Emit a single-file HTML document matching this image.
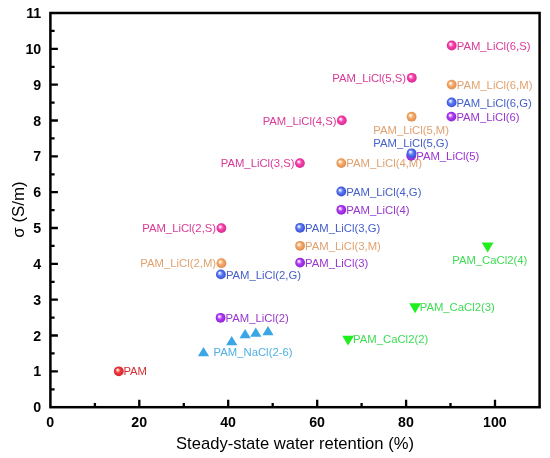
<!DOCTYPE html>
<html lang="en"><head><meta charset="utf-8"><title>Conductivity vs water retention</title>
<style>html,body{margin:0;padding:0;background:#fff}svg{display:block}text{font-family:"Liberation Sans",Arial,sans-serif}.tk{font-weight:bold;font-size:14.2px;fill:#000}.ax{font-size:16.6px;fill:#000}.lb{font-size:11.3px}</style></head><body>
<svg width="550" height="458" viewBox="0 0 550 458">
<rect width="550" height="458" fill="#fff"/>
<defs>
<radialGradient id="gred" cx="0.5" cy="0.5" r="0.5" fx="0.34" fy="0.33"><stop offset="0.04" stop-color="#fff"/><stop offset="0.22" stop-color="#ffb4b4"/><stop offset="0.5" stop-color="#f43a3e"/><stop offset="1" stop-color="#d02228"/></radialGradient>
<radialGradient id="gpur" cx="0.5" cy="0.5" r="0.5" fx="0.34" fy="0.33"><stop offset="0.04" stop-color="#fff"/><stop offset="0.22" stop-color="#e6bcff"/><stop offset="0.5" stop-color="#b23cf4"/><stop offset="1" stop-color="#8a24d0"/></radialGradient>
<radialGradient id="gblu" cx="0.5" cy="0.5" r="0.5" fx="0.34" fy="0.33"><stop offset="0.04" stop-color="#fff"/><stop offset="0.22" stop-color="#bccaff"/><stop offset="0.5" stop-color="#5a78f4"/><stop offset="1" stop-color="#3850d0"/></radialGradient>
<radialGradient id="gorg" cx="0.5" cy="0.5" r="0.5" fx="0.34" fy="0.33"><stop offset="0.04" stop-color="#fff"/><stop offset="0.22" stop-color="#ffe2c4"/><stop offset="0.5" stop-color="#f6aa6a"/><stop offset="1" stop-color="#dc8e50"/></radialGradient>
<radialGradient id="gpnk" cx="0.5" cy="0.5" r="0.5" fx="0.34" fy="0.33"><stop offset="0.04" stop-color="#fff"/><stop offset="0.22" stop-color="#ffbce4"/><stop offset="0.5" stop-color="#f844ac"/><stop offset="1" stop-color="#d82890"/></radialGradient>
</defs>
<rect x="50.4" y="13.0" width="489.2" height="394.2" fill="none" stroke="#000" stroke-width="2.5"/>
<path d="M50.4 389.3h4.2 M50.4 371.4h7.5 M50.4 353.4h4.2 M50.4 335.5h7.5 M50.4 317.6h4.2 M50.4 299.7h7.5 M50.4 281.8h4.2 M50.4 263.9h7.5 M50.4 245.9h4.2 M50.4 228.0h7.5 M50.4 210.1h4.2 M50.4 192.2h7.5 M50.4 174.3h4.2 M50.4 156.3h7.5 M50.4 138.4h4.2 M50.4 120.5h7.5 M50.4 102.6h4.2 M50.4 84.7h7.5 M50.4 66.8h4.2 M50.4 48.8h7.5 M50.4 30.9h4.2 M94.9 407.2v-4.2 M139.3 407.2v-7.5 M183.8 407.2v-4.2 M228.2 407.2v-7.5 M272.7 407.2v-4.2 M317.2 407.2v-7.5 M361.6 407.2v-4.2 M406.1 407.2v-7.5 M450.5 407.2v-4.2 M495.0 407.2v-7.5" stroke="#000" stroke-width="2.3" fill="none"/>
<text class="tk" x="41.2" y="412.2" text-anchor="end">0</text>
<text class="tk" x="41.2" y="376.4" text-anchor="end">1</text>
<text class="tk" x="41.2" y="340.5" text-anchor="end">2</text>
<text class="tk" x="41.2" y="304.7" text-anchor="end">3</text>
<text class="tk" x="41.2" y="268.9" text-anchor="end">4</text>
<text class="tk" x="41.2" y="233.0" text-anchor="end">5</text>
<text class="tk" x="41.2" y="197.2" text-anchor="end">6</text>
<text class="tk" x="41.2" y="161.3" text-anchor="end">7</text>
<text class="tk" x="41.2" y="125.5" text-anchor="end">8</text>
<text class="tk" x="41.2" y="89.7" text-anchor="end">9</text>
<text class="tk" x="41.2" y="53.8" text-anchor="end">10</text>
<text class="tk" x="41.2" y="18.0" text-anchor="end">11</text>
<text class="tk" x="50.3" y="426.6" text-anchor="middle">0</text>
<text class="tk" x="139.2" y="426.6" text-anchor="middle">20</text>
<text class="tk" x="228.1" y="426.6" text-anchor="middle">40</text>
<text class="tk" x="317.1" y="426.6" text-anchor="middle">60</text>
<text class="tk" x="406.0" y="426.6" text-anchor="middle">80</text>
<text class="tk" x="494.9" y="426.6" text-anchor="middle">100</text>
<text class="ax" x="295" y="449" text-anchor="middle">Steady-state water retention (%)</text>
<text class="ax" style="font-size:16.9px" transform="translate(24.4 209.5) rotate(-90)" text-anchor="middle">σ (S/m)</text>
<text class="lb" x="123.4" y="375.0" fill="#d03034" text-anchor="start">PAM</text>
<text class="lb" x="225.6" y="321.9" fill="#9a35d0" text-anchor="start">PAM_LiCl(2)</text>
<text class="lb" x="305.1" y="266.7" fill="#9a35d0" text-anchor="start">PAM_LiCl(3)</text>
<text class="lb" x="346.3" y="213.9" fill="#9a35d0" text-anchor="start">PAM_LiCl(4)</text>
<text class="lb" x="416.2" y="159.9" fill="#9a35d0" text-anchor="start">PAM_LiCl(5)</text>
<text class="lb" x="456.4" y="120.7" fill="#9a35d0" text-anchor="start">PAM_LiCl(6)</text>
<text class="lb" x="225.9" y="278.5" fill="#4560c8" text-anchor="start">PAM_LiCl(2,G)</text>
<text class="lb" x="305.1" y="231.9" fill="#4560c8" text-anchor="start">PAM_LiCl(3,G)</text>
<text class="lb" x="346.3" y="195.6" fill="#4560c8" text-anchor="start">PAM_LiCl(4,G)</text>
<text class="lb" x="456.6" y="106.5" fill="#4560c8" text-anchor="start">PAM_LiCl(6,G)</text>
<text class="lb" x="216.1" y="267.3" fill="#e0a270" text-anchor="end">PAM_LiCl(2,M)</text>
<text class="lb" x="305.1" y="249.9" fill="#e0a270" text-anchor="start">PAM_LiCl(3,M)</text>
<text class="lb" x="346.3" y="167.2" fill="#e0a270" text-anchor="start">PAM_LiCl(4,M)</text>
<text class="lb" x="456.7" y="88.7" fill="#e0a270" text-anchor="start">PAM_LiCl(6,M)</text>
<text class="lb" x="216.1" y="232.2" fill="#d83a98" text-anchor="end">PAM_LiCl(2,S)</text>
<text class="lb" x="294.6" y="167.2" fill="#d83a98" text-anchor="end">PAM_LiCl(3,S)</text>
<text class="lb" x="336.5" y="124.5" fill="#d83a98" text-anchor="end">PAM_LiCl(4,S)</text>
<text class="lb" x="406.1" y="81.9" fill="#d83a98" text-anchor="end">PAM_LiCl(5,S)</text>
<text class="lb" x="456.7" y="49.6" fill="#d83a98" text-anchor="start">PAM_LiCl(6,S)</text>
<text class="lb" x="373.3" y="133.8" fill="#e0a270" text-anchor="start">PAM_LiCl(5,M)</text>
<text class="lb" x="373.3" y="146.9" fill="#4560c8" text-anchor="start">PAM_LiCl(5,G)</text>
<circle cx="221.4" cy="228.1" r="4.9" fill="url(#gpnk)"/>
<circle cx="299.9" cy="163.1" r="4.9" fill="url(#gpnk)"/>
<circle cx="341.8" cy="120.4" r="4.9" fill="url(#gpnk)"/>
<circle cx="411.8" cy="77.8" r="4.9" fill="url(#gpnk)"/>
<circle cx="451.7" cy="45.5" r="4.9" fill="url(#gpnk)"/>
<circle cx="221.4" cy="263.2" r="4.9" fill="url(#gorg)"/>
<circle cx="300.1" cy="245.8" r="4.9" fill="url(#gorg)"/>
<circle cx="341.3" cy="163.1" r="4.9" fill="url(#gorg)"/>
<circle cx="411.6" cy="116.7" r="4.9" fill="url(#gorg)"/>
<circle cx="451.7" cy="84.6" r="4.9" fill="url(#gorg)"/>
<circle cx="220.6" cy="317.8" r="4.9" fill="url(#gpur)"/>
<circle cx="300.1" cy="262.6" r="4.9" fill="url(#gpur)"/>
<circle cx="341.3" cy="209.8" r="4.9" fill="url(#gpur)"/>
<circle cx="411.2" cy="155.8" r="4.9" fill="url(#gpur)"/>
<circle cx="451.4" cy="116.6" r="4.9" fill="url(#gpur)"/>
<circle cx="220.9" cy="274.4" r="4.9" fill="url(#gblu)"/>
<circle cx="300.1" cy="227.8" r="4.9" fill="url(#gblu)"/>
<circle cx="341.3" cy="191.5" r="4.9" fill="url(#gblu)"/>
<circle cx="411.6" cy="153.3" r="4.9" fill="url(#gblu)"/>
<circle cx="451.6" cy="102.4" r="4.9" fill="url(#gblu)"/>
<circle cx="118.8" cy="371.3" r="4.9" fill="url(#gred)"/>
<path d="M203.5 347.0l5.6 9.2h-11.2z" fill="#3aa6e6"/>
<path d="M231.7 336.0l5.6 9.2h-11.2z" fill="#3aa6e6"/>
<path d="M245.1 329.0l5.6 9.2h-11.2z" fill="#3aa6e6"/>
<path d="M255.8 327.6l5.6 9.2h-11.2z" fill="#3aa6e6"/>
<path d="M268.0 326.0l5.6 9.2h-11.2z" fill="#3aa6e6"/>
<text class="lb" x="213.6" y="356.0" fill="#4fb0e4" text-anchor="start">PAM_NaCl(2-6)</text>
<path d="M348.1 345.6l-5.9 -9.9h11.8z" fill="#1fee1f"/>
<path d="M415.1 313.2l-5.9 -9.9h11.8z" fill="#1fee1f"/>
<path d="M487.6 252.5l-5.9 -9.9h11.8z" fill="#1fee1f"/>
<text class="lb" x="353.1" y="343.0" fill="#3fdc55" text-anchor="start">PAM_CaCl2(2)</text>
<text class="lb" x="419.7" y="310.6" fill="#3fdc55" text-anchor="start">PAM_CaCl2(3)</text>
<text class="lb" x="452.2" y="264.4" fill="#3fdc55" text-anchor="start">PAM_CaCl2(4)</text>
</svg></body></html>
